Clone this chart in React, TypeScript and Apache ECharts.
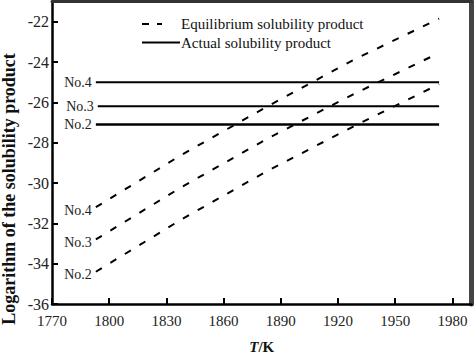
import React, { useEffect, useRef } from "react";
import * as echarts from "echarts";

const FONT = "'Liberation Serif', 'Times New Roman', serif";

// Axis settings
const xMin = 1770;
const xMax = 1990;
const xInterval = 30;
const yMin = -36;
const yMax = -21;
const yInterval = 2;

// Actual solubility product (horizontal lines)
const actualNames = ["No.4", "No.3", "No.2"];
const actualStart = [1793, 1794, 1793];
const actualEnd = 1973;
const actualValues = [-25.0, -26.2, -27.1];
const actualWidths = [2, 2, 2.5];

// Equilibrium solubility product (dashed lines)
const eqNames = ["No.4", "No.3", "No.2"];
const eqTemps = [1793, 1838, 1883, 1928, 1973];
const eqNo4 = [-31.2, -28.6, -26.2, -23.9, -21.85];
const eqNo3 = [-32.8, -30.2, -27.8, -25.6, -23.55];
const eqNo2 = [-34.4, -31.8, -29.4, -27.2, -25.1];
const eqValues = [eqNo4, eqNo3, eqNo2];

const legendEq = "Equilibrium solubility product";
const legendAct = "Actual solubility product";
const yName = "Logarithm of the solubility product";

function labeledFirst(points: [number, number][], name: string, offsetY: number) {
  return points.map((p, i) =>
    i === 0
      ? {
          value: p,
          label: {
            show: true,
            position: "left",
            distance: 4,
            offset: [0, offsetY],
            formatter: name,
            fontFamily: FONT,
            fontSize: 14,
            color: "#222",
          },
        }
      : { value: p }
  );
}

export default function App() {
  const ref = useRef<HTMLDivElement>(null);

  useEffect(() => {
    if (!ref.current) return;
    const chart = echarts.init(ref.current, undefined, { renderer: "svg" });

    const series: any[] = [];
    actualNames.forEach((n, k) => {
      series.push({
        type: "line",
        name: "actual " + n,
        xAxisIndex: 0,
        yAxisIndex: 0,
        showSymbol: true,
        symbol: "circle",
        symbolSize: 0,
        lineStyle: { color: "#000", width: actualWidths[k], type: "solid" },
        itemStyle: { color: "#000" },
        data: labeledFirst(
          [
            [actualStart[k], actualValues[k]],
            [actualEnd, actualValues[k]],
          ],
          n,
          0
        ),
        silent: true,
      });
    });
    eqNames.forEach((n, k) => {
      series.push({
        type: "line",
        name: "eq " + n,
        xAxisIndex: 0,
        yAxisIndex: 0,
        showSymbol: true,
        symbol: "circle",
        symbolSize: 0,
        lineStyle: { color: "#000", width: 2, type: [7, 10] },
        itemStyle: { color: "#000" },
        data: labeledFirst(
          eqTemps.map((t, i) => [t, eqValues[k][i]] as [number, number]),
          n,
          3
        ),
        silent: true,
      });
    });

    chart.setOption({
      animation: false,
      backgroundColor: "#fff",
      grid: { left: 52, right: 2.5, top: 1.5, bottom: 50.7, containLabel: false },
      xAxis: [
        {
          type: "value",
          position: "bottom",
          min: xMin,
          max: xMax,
          interval: xInterval,
          axisLine: { show: true, onZero: false, lineStyle: { color: "#000", width: 2.5 } },
          axisTick: { show: true, inside: true, length: 6, lineStyle: { color: "#000", width: 2 } },
          axisLabel: {
            showMaxLabel: false,
            margin: 9,
            fontFamily: FONT,
            fontSize: 15,
            color: "#222",
            formatter: (v: number) => String(v),
          },
          splitLine: { show: false },
          name: "{i|T}{b|/K}",
          nameLocation: "middle",
          nameGap: 35,
          nameTextStyle: {
            rich: {
              i: { fontStyle: "italic", fontWeight: "bold", fontSize: 15, fontFamily: FONT, color: "#111" },
              b: { fontWeight: "bold", fontSize: 15, fontFamily: FONT, color: "#111" },
            },
          },
        },
        {
          type: "value",
          position: "top",
          min: xMin,
          max: xMax,
          interval: xInterval,
          axisLine: { show: true, onZero: false, lineStyle: { color: "#333", width: 3 } },
          axisTick: { show: false },
          axisLabel: { show: false },
          splitLine: { show: false },
        },
      ],
      yAxis: [
        {
          type: "value",
          position: "left",
          min: yMin,
          max: yMax,
          interval: yInterval,
          axisLine: { show: true, onZero: false, lineStyle: { color: "#000", width: 2.5 } },
          axisTick: { show: true, inside: true, length: 6, lineStyle: { color: "#000", width: 2 } },
          axisLabel: {
            showMaxLabel: false,
            margin: 3,
            fontFamily: FONT,
            fontSize: 16,
            color: "#222",
            formatter: (v: number) => String(v),
          },
          splitLine: { show: false },
        },
        {
          type: "value",
          position: "right",
          min: yMin,
          max: yMax,
          interval: yInterval,
          axisLine: { show: true, onZero: false, lineStyle: { color: "#444", width: 5 } },
          axisTick: { show: false },
          axisLabel: { show: false },
          splitLine: { show: false },
        },
      ],
      graphic: [
        {
          type: "line",
          shape: { x1: 142, y1: 24, x2: 162, y2: 24 },
          style: { stroke: "#000", lineWidth: 2, lineDash: [7, 8] },
          silent: true,
        },
        {
          type: "text",
          x: 181,
          y: 24,
          style: {
            text: legendEq,
            fontFamily: FONT,
            fontSize: 15,
            fill: "#111",
            align: "left",
            verticalAlign: "middle",
          },
          silent: true,
        },
        {
          type: "line",
          shape: { x1: 142, y1: 42.5, x2: 180, y2: 42.5 },
          style: { stroke: "#000", lineWidth: 2 },
          silent: true,
        },
        {
          type: "text",
          x: 181,
          y: 42.5,
          style: {
            text: legendAct,
            fontFamily: FONT,
            fontSize: 15,
            fill: "#111",
            align: "left",
            verticalAlign: "middle",
          },
          silent: true,
        },
        {
          type: "text",
          x: 9,
          y: 189,
          rotation: Math.PI / 2,
          style: {
            text: yName,
            fontFamily: FONT,
            fontSize: 18,
            fontWeight: "bold",
            fill: "#111",
            align: "center",
            verticalAlign: "middle",
          },
          silent: true,
        },
      ],
      series,
    });

    return () => chart.dispose();
  }, []);

  return (
    <div
      ref={ref}
      style={{ position: "fixed", left: 0, top: 0, width: 474, height: 359, background: "#fff" }}
    />
  );
}
